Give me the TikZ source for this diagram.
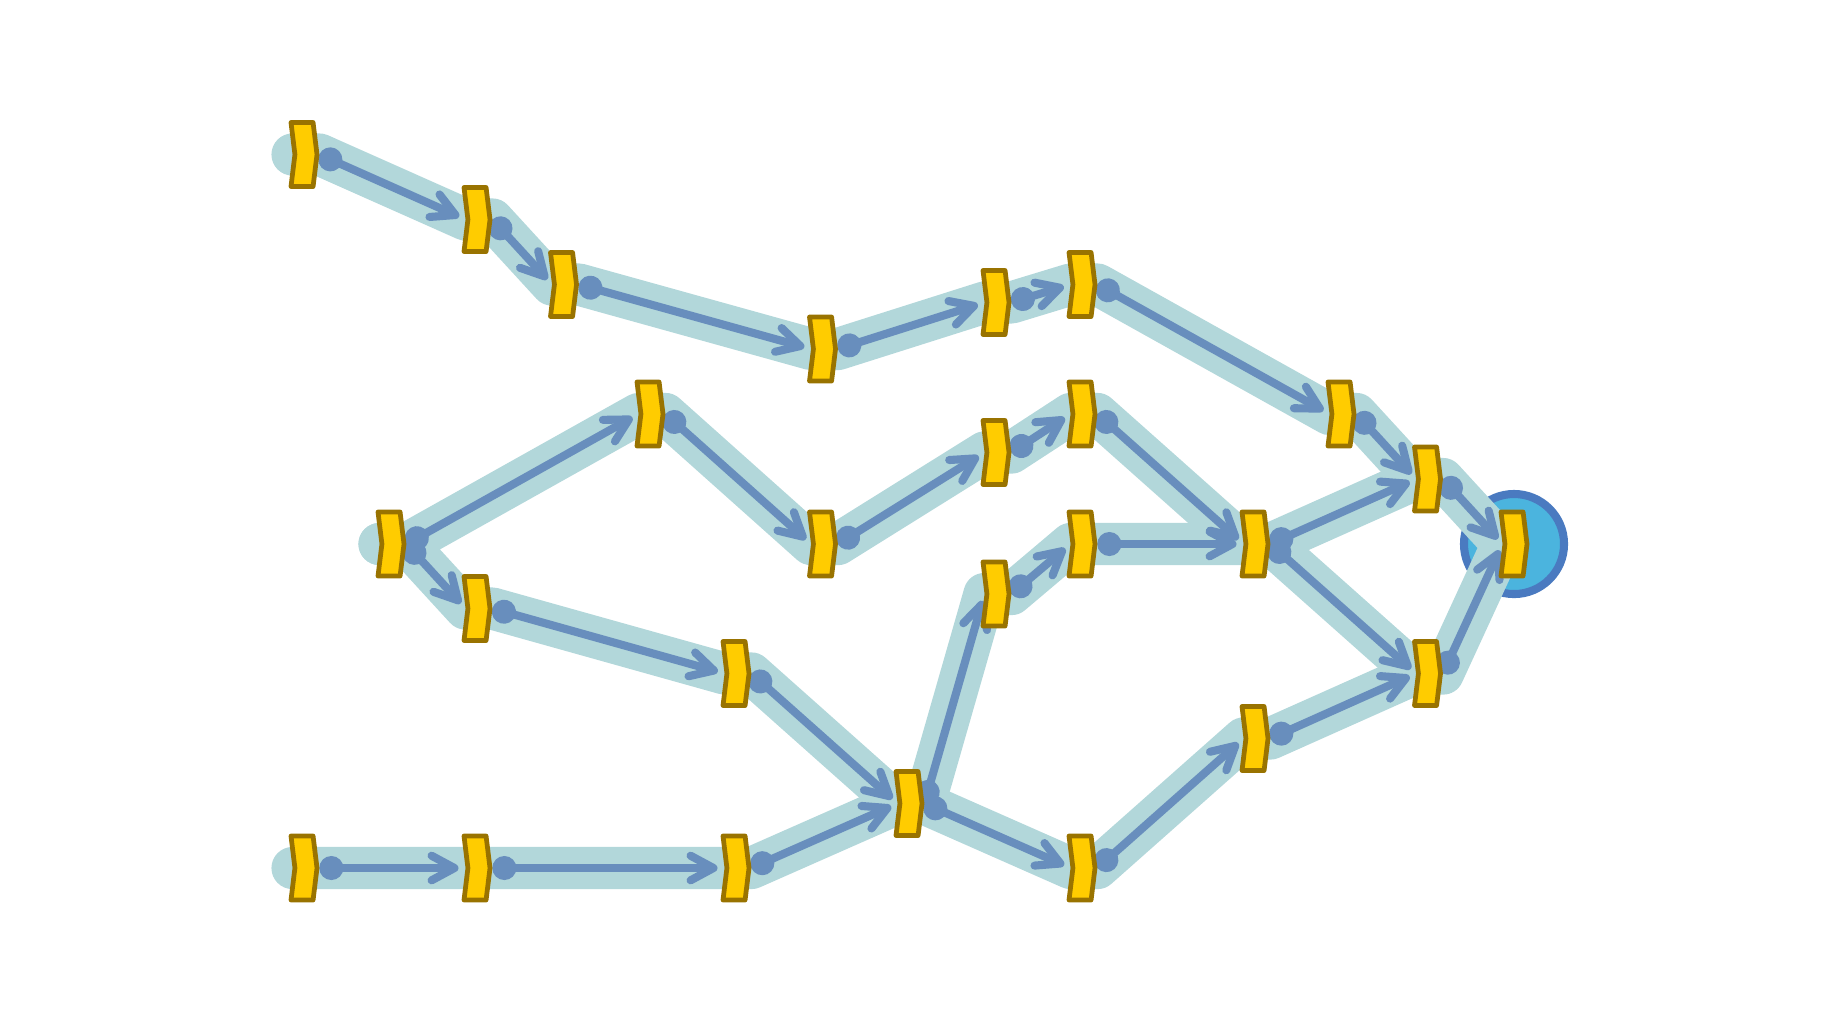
\documentclass[tikz,border=0pt]{standalone}
\usepackage{tikz}
\usetikzlibrary{arrows.meta, shapes.symbols}
\definecolor{bandteal}{RGB}{178,215,218}
\definecolor{flowblue}{RGB}{104,142,189}
\definecolor{stepgold}{RGB}{255,204,0}
\definecolor{stepbrown}{RGB}{153,115,0}
\definecolor{goalfill}{RGB}{75,180,222}
\definecolor{goalline}{RGB}{74,122,192}
\pgfdeclarelayer{bandlayer}
\pgfdeclarelayer{flowlayer}
\pgfsetlayers{bandlayer,flowlayer,main}
\tikzset{
    stepnode/.style={shape=signal, signal from=west, signal to=east, signal pointer angle=166,
        draw=stepbrown, fill=stepgold, line width=1.35pt, line join=round,
        minimum width=0.26cm, minimum height=0.64cm, inner sep=0pt},
    goal/.style={circle, draw=goalline, fill=goalfill, line width=2.3pt, minimum size=1cm, inner sep=0pt},
    band/.style={draw=bandteal, line width=12pt, line cap=round, line join=round},
    flow/.style={draw=flowblue, line width=2.3pt,
        {Circle[length=6.8pt]}-{Straight Barb[length=6.5pt, width=7pt, round]}, shorten >=2pt},
}

\begin{document}
\begin{tikzpicture}[x=0.01cm, y=-0.01cm]
            \useasboundingbox (0,0) rectangle (1821,1026);

            % upper path
            \node[stepnode] (a1) at (304,154.5) {};
            \node[stepnode] (a2) at (477,219.5) {};
            \node[stepnode] (a3) at (563.5,284.5) {};
            \node[stepnode] (a4) at (822.5,349) {};
            \node[stepnode] (a5) at (996,302.5) {};
            \node[stepnode] (a6) at (1082,284.5) {};
            \node[stepnode] (a7) at (1341,414) {};
            \node[stepnode] (a8) at (1427.5,479) {};
            \node[stepnode] (fin) at (1514,544) {};

            % middle paths
            \node[stepnode] (b0) at (391,544) {};
            \node[stepnode] (b1) at (650,414) {};
            \node[stepnode] (b2) at (822.5,544) {};
            \node[stepnode] (b3) at (996,452.5) {};
            \node[stepnode] (b4) at (1082,414) {};
            \node[stepnode] (hub) at (1255,544) {};
            \node[stepnode] (c0) at (477,608.5) {};
            \node[stepnode] (c2) at (736,673.5) {};
            \node[stepnode] (mid) at (909,803.5) {};
            \node[stepnode] (c3) at (996,594) {};
            \node[stepnode] (c4) at (1082,544) {};

            % lower path
            \node[stepnode] (d0) at (304,868) {};
            \node[stepnode] (d1) at (477,868) {};
            \node[stepnode] (d2) at (736,868) {};
            \node[stepnode] (e1) at (1082,868) {};
            \node[stepnode] (e2) at (1255,738.5) {};
            \node[stepnode] (e3) at (1427.5,673.5) {};

            \begin{pgfonlayer}{bandlayer}
                \node[goal] (target) at (fin) {};
                \draw[band] (a1.west) -- (a1.east) -- (a2.west) -- (a2.east) -- (a3.west) -- (a3.east)
                    -- (a4.west) -- (a4.east) -- (a5.west) -- (a5.east) -- (a6.west) -- (a6.east)
                    -- (a7.west) -- (a7.east) -- (a8.west) -- (a8.east) -- (fin.west);
                \draw[band] (b0.west) -- (b0.east) -- (b1.west) -- (b1.east) -- (b2.west) -- (b2.east)
                    -- (b3.west) -- (b3.east) -- (b4.west) -- (b4.east) -- (hub.west) -- (hub.east) -- (a8.west);
                \draw[band] (b0.west) -- (b0.east) -- (c0.west) -- (c0.east) -- (c2.west) -- (c2.east)
                    -- (mid.west) -- (mid.east) -- (c3.west) -- (c3.east) -- (c4.west) -- (c4.east)
                    -- (hub.west) -- (hub.east) -- (e3.west) -- (e3.east) -- (fin.west);
                \draw[band] (d0.west) -- (d0.east) -- (d1.west) -- (d1.east) -- (d2.west) -- (d2.east)
                    -- (mid.west) -- (mid.east) -- (e1.west) -- (e1.east) -- (e2.west) -- (e2.east) -- (e3.west);
            \end{pgfonlayer}

            \begin{pgfonlayer}{flowlayer}
                \draw[flow] (a1.east) -- (a2.west);
                \draw[flow] (a2.east) -- (a3.west);
                \draw[flow] (a3.east) -- (a4.west);
                \draw[flow] (a4.east) -- (a5.west);
                \draw[flow] (a5.east) -- (a6.west);
                \draw[flow] (a6.east) -- (a7.west);
                \draw[flow] (a7.east) -- (a8.west);
                \draw[flow] (a8.east) -- (fin.west);
                \draw[flow] (b0.east) -- (b1.west);
                \draw[flow] (b1.east) -- (b2.west);
                \draw[flow] (b2.east) -- (b3.west);
                \draw[flow] (b3.east) -- (b4.west);
                \draw[flow] (b4.east) -- (hub.west);
                \draw[flow] (hub.east) -- (a8.west);
                \draw[flow] (b0.east) -- (c0.west);
                \draw[flow] (c0.east) -- (c2.west);
                \draw[flow] (c2.east) -- (mid.west);
                \draw[flow] (mid.east) -- (c3.west);
                \draw[flow] (c3.east) -- (c4.west);
                \draw[flow] (c4.east) -- (hub.west);
                \draw[flow] (hub.east) -- (e3.west);
                \draw[flow] (e3.east) -- (fin.west);
                \draw[flow] (d0.east) -- (d1.west);
                \draw[flow] (d1.east) -- (d2.west);
                \draw[flow] (d2.east) -- (mid.west);
                \draw[flow] (mid.east) -- (e1.west);
                \draw[flow] (e1.east) -- (e2.west);
                \draw[flow] (e2.east) -- (e3.west);
            \end{pgfonlayer}
        \end{tikzpicture}
\end{document}
